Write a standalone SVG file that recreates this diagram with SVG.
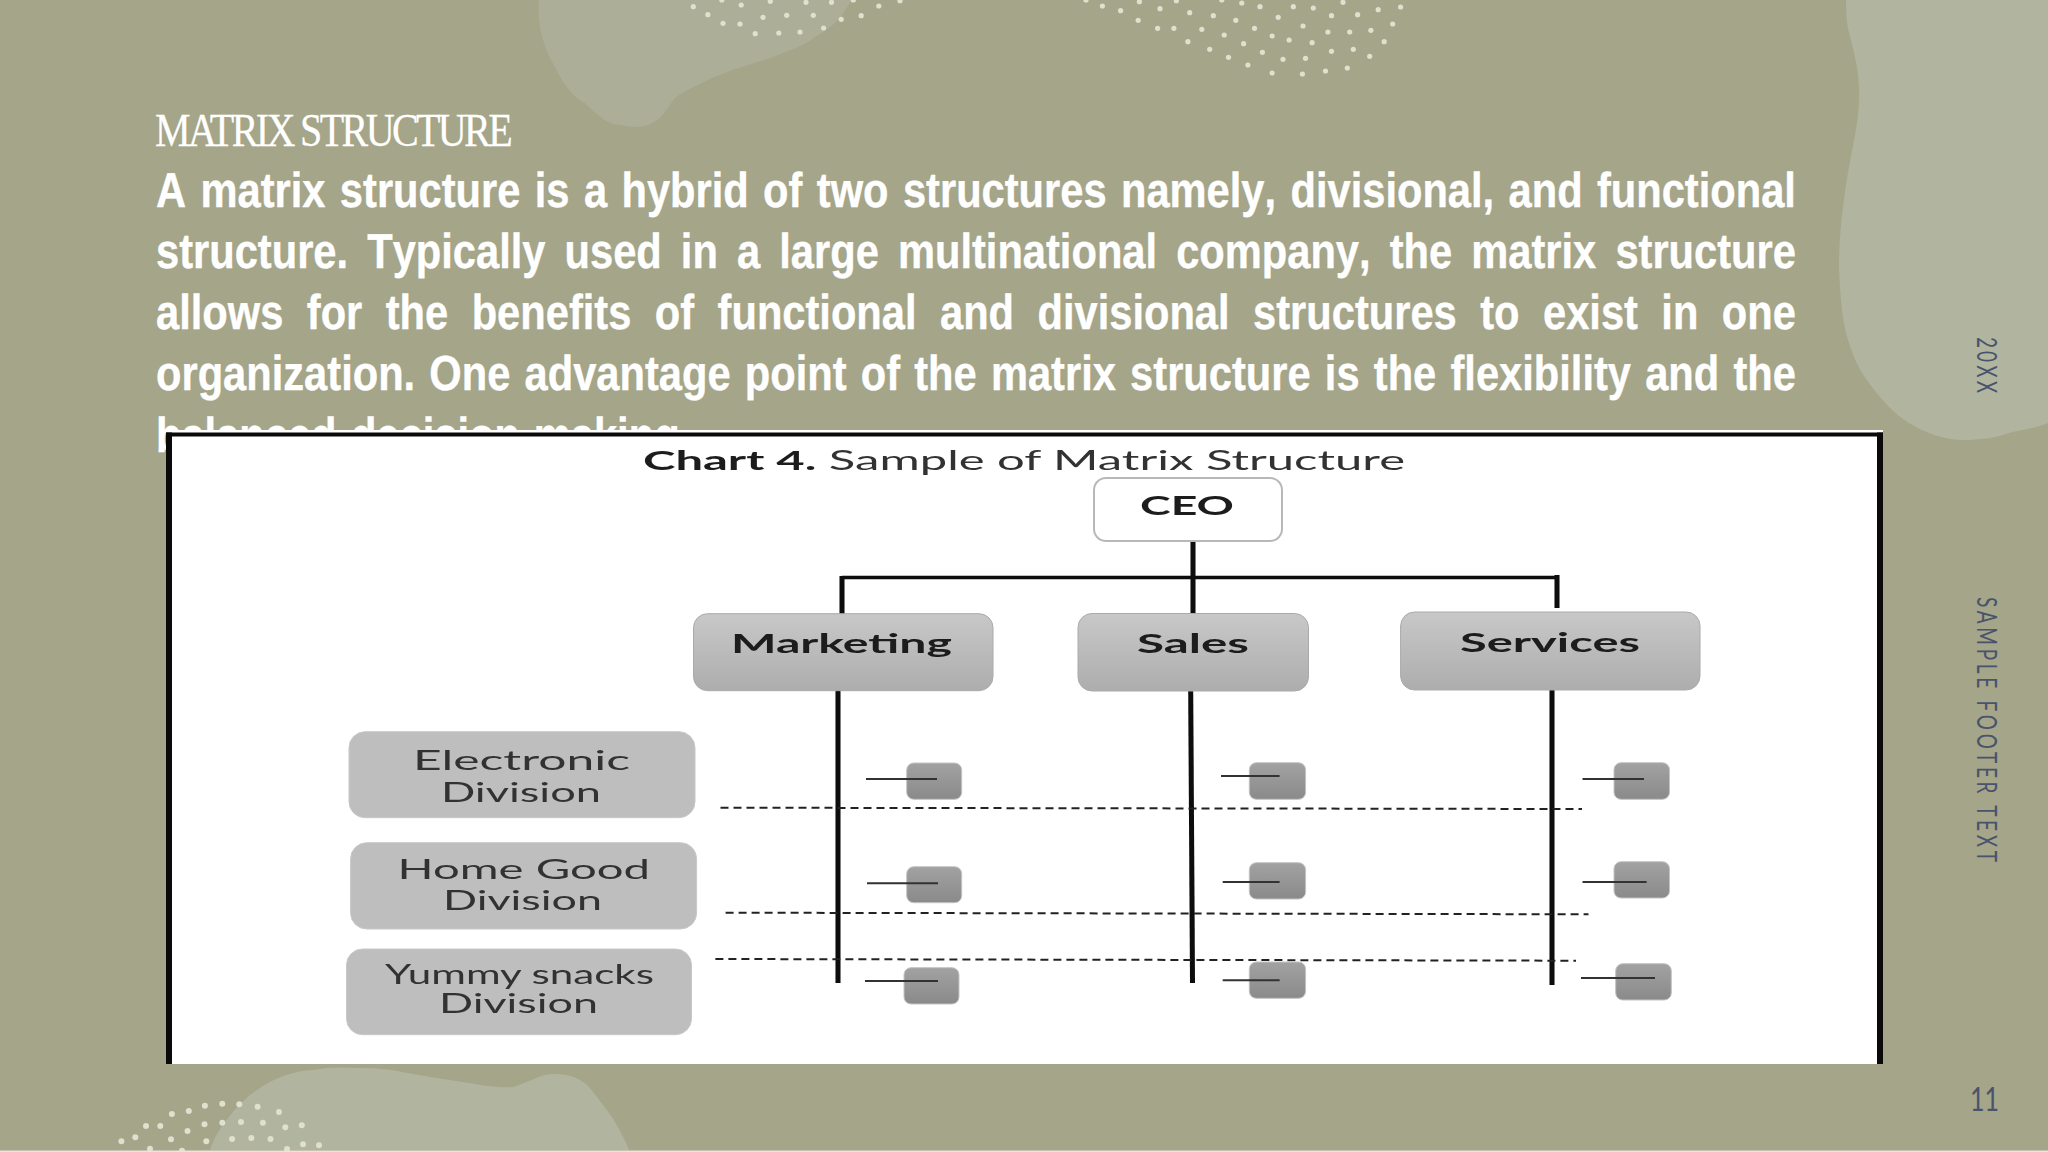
<svg xmlns="http://www.w3.org/2000/svg" width="2048" height="1152" viewBox="0 0 2048 1152">
<style>
.body{font-family:"Liberation Sans",Arial,sans-serif;font-weight:700;font-size:49px;fill:#fff;stroke:#fff;stroke-width:.4;font-kerning:none;text-rendering:geometricPrecision}
.title{font-family:"Liberation Serif","Times New Roman",serif;font-size:46px;letter-spacing:-3px;fill:#fff;stroke:#fff;stroke-width:.3}
.foot{font-family:"Lato","Liberation Sans",sans-serif;font-size:19px;fill:#48546c}
.dots circle{fill:#dfe0cd}
.lbl{font-family:"Lato","Liberation Sans",sans-serif;font-size:26px;fill:#333}
.bold{font-weight:700;fill:#1c1c1c}
.big{fill:url(#g1);stroke:#aaa;stroke-width:1}
.div{fill:#bebebe;stroke:#c8c8c8;stroke-width:1}
.sq{fill:url(#g2);stroke:#c4c4c4;stroke-width:1}
.solid{stroke:#0a0a0a;stroke-width:5;fill:none}
.thin{stroke:#0a0a0a;stroke-width:3.5;fill:none}
.dash{stroke:#222;stroke-width:2;stroke-dasharray:8 5;fill:none}
.tick{stroke:#333;stroke-width:2;fill:none}
</style>
<defs>
<linearGradient id="g1" x1="0" y1="0" x2="0" y2="1"><stop offset="0" stop-color="#c8c8c8"/><stop offset="1" stop-color="#adadad"/></linearGradient>
<linearGradient id="g2" x1="0" y1="0" x2="0" y2="1"><stop offset="0" stop-color="#a2a2a2"/><stop offset="1" stop-color="#8a8a8a"/></linearGradient>
<filter id="soft" x="-2%" y="-2%" width="104%" height="104%"><feGaussianBlur stdDeviation="0.6"/></filter>
</defs>

<rect width="2048" height="1152" fill="#a5a589"/>

<!-- background blobs -->
<path fill="#acae98" d="M539,0 C536,25 545,50 555,67 C565,88 575,98 585,103 C600,118 610,125 621,125 C640,130 655,125 664,113 C672,103 672,100 679,95 C690,88 700,84 712,78 C735,68 755,63 773,57 C795,48 805,45 815,37 C830,28 840,20 845,10 L852,0 Z"/>
<path fill="#b1b49e" d="M1846,0 C1846,15 1847,25 1849,33 C1855,55 1860,75 1859,100 C1858,125 1853,145 1849,167 C1843,200 1839,235 1839,267 C1840,295 1842,315 1846,333 C1852,355 1859,370 1869,383 C1880,398 1893,413 1909,423 C1925,433 1945,440 1963,440 C1980,440 1995,438 2009,433 C2022,430 2036,428 2048,423 L2048,0 Z"/>
<path fill="#b1b49e" d="M210,1150 C215,1135 223,1124 232,1113 C243,1100 255,1090 268,1083 C282,1075 297,1071 312,1070 C328,1067 343,1067 357,1068 C375,1068 388,1069 402,1072 C425,1076 448,1080 469,1083 C485,1086 500,1088 513,1087 C530,1082 540,1074 554,1074 C570,1074 580,1078 589,1087 C598,1098 605,1108 612,1117 C620,1130 625,1140 629,1150 Z"/>

<!-- dots -->
<g class="dots">
<circle cx="693.3" cy="6.7" r="2.6"/><circle cx="707.9" cy="14.7" r="2.6"/><circle cx="723" cy="23.3" r="2.6"/><circle cx="740" cy="24" r="2.6"/><circle cx="741.2" cy="5" r="2.6"/><circle cx="763" cy="17.3" r="2.6"/><circle cx="786.7" cy="15.3" r="2.6"/><circle cx="813.3" cy="15.3" r="2.6"/><circle cx="841.2" cy="19.3" r="2.6"/><circle cx="861.2" cy="15.7" r="2.6"/><circle cx="878.8" cy="6" r="2.6"/><circle cx="900" cy="0.7" r="2.6"/><circle cx="853.3" cy="0" r="2.6"/><circle cx="831.5" cy="2.3" r="2.6"/><circle cx="806" cy="2.3" r="2.6"/><circle cx="770.3" cy="1.3" r="2.6"/><circle cx="721.8" cy="0" r="2.6"/><circle cx="755.2" cy="33.7" r="2.6"/><circle cx="778.8" cy="33" r="2.6"/><circle cx="800" cy="32" r="2.6"/><circle cx="823.6" cy="28" r="2.6"/>
<circle cx="1086" cy="0" r="2.6"/><circle cx="1102.4" cy="6" r="2.6"/><circle cx="1120.6" cy="10.7" r="2.6"/><circle cx="1139.4" cy="1.7" r="2.6"/><circle cx="1160" cy="8.7" r="2.6"/><circle cx="1176.4" cy="0.7" r="2.6"/><circle cx="1189.7" cy="12.7" r="2.6"/><circle cx="1213.3" cy="15.7" r="2.6"/><circle cx="1221.8" cy="0" r="2.6"/><circle cx="1241.8" cy="3" r="2.6"/><circle cx="1260" cy="6.7" r="2.6"/><circle cx="1293.3" cy="6.7" r="2.6"/><circle cx="1313.3" cy="8" r="2.6"/><circle cx="1343" cy="2.3" r="2.6"/><circle cx="1331.5" cy="15.7" r="2.6"/><circle cx="1357.6" cy="14.7" r="2.6"/><circle cx="1378.2" cy="9.7" r="2.6"/><circle cx="1400.6" cy="7" r="2.6"/><circle cx="1392.7" cy="24" r="2.6"/><circle cx="1370.9" cy="30.3" r="2.6"/><circle cx="1349.7" cy="32" r="2.6"/><circle cx="1327.9" cy="32" r="2.6"/><circle cx="1303" cy="26" r="2.6"/><circle cx="1278.2" cy="17.3" r="2.6"/><circle cx="1235.8" cy="20.3" r="2.6"/><circle cx="1138.2" cy="20.3" r="2.6"/><circle cx="1157.6" cy="28.3" r="2.6"/><circle cx="1173.9" cy="28.3" r="2.6"/><circle cx="1201.8" cy="29.3" r="2.6"/><circle cx="1224.2" cy="35" r="2.6"/><circle cx="1254.5" cy="28.3" r="2.6"/><circle cx="1272.1" cy="36" r="2.6"/><circle cx="1289.1" cy="40" r="2.6"/><circle cx="1312.1" cy="42.7" r="2.6"/><circle cx="1384.2" cy="41.7" r="2.6"/><circle cx="1187.9" cy="41.7" r="2.6"/><circle cx="1209.7" cy="49.3" r="2.6"/><circle cx="1243.6" cy="43.7" r="2.6"/><circle cx="1262.4" cy="52.3" r="2.6"/><circle cx="1331.5" cy="51.3" r="2.6"/><circle cx="1353.3" cy="49.3" r="2.6"/><circle cx="1369.7" cy="56.3" r="2.6"/><circle cx="1228.5" cy="57.3" r="2.6"/><circle cx="1283" cy="59.3" r="2.6"/><circle cx="1305.5" cy="58.3" r="2.6"/><circle cx="1247.9" cy="65" r="2.6"/><circle cx="1272.1" cy="73" r="2.6"/><circle cx="1302.4" cy="74" r="2.6"/><circle cx="1325.5" cy="71" r="2.6"/><circle cx="1347.3" cy="68" r="2.6"/>
<circle cx="121.4" cy="1141.3" r="3"/><circle cx="135.3" cy="1137.3" r="3"/><circle cx="146" cy="1126" r="3"/><circle cx="160.3" cy="1126" r="3"/><circle cx="171.9" cy="1114" r="3"/><circle cx="188.8" cy="1111" r="3"/><circle cx="204.9" cy="1105.7" r="3"/><circle cx="222.3" cy="1103.7" r="3"/><circle cx="239.3" cy="1104.3" r="3"/><circle cx="257.6" cy="1106.7" r="3"/><circle cx="279" cy="1112" r="3"/><circle cx="301.8" cy="1125.3" r="3"/><circle cx="285.3" cy="1127.3" r="3"/><circle cx="262.9" cy="1122.7" r="3"/><circle cx="241" cy="1122" r="3"/><circle cx="222.3" cy="1122.7" r="3"/><circle cx="204.5" cy="1124.3" r="3"/><circle cx="187.5" cy="1131" r="3"/><circle cx="171" cy="1139.3" r="3"/><circle cx="150" cy="1148.7" r="3"/><circle cx="182" cy="1150.7" r="3"/><circle cx="206.3" cy="1141.3" r="3"/><circle cx="232.1" cy="1139" r="3"/><circle cx="251.3" cy="1138" r="3"/><circle cx="270.5" cy="1139" r="3"/><circle cx="287" cy="1149" r="3"/><circle cx="303" cy="1144.3" r="3"/><circle cx="319" cy="1145.3" r="3"/>
</g>
<rect y="1150.5" width="2048" height="1.5" fill="#e6e6da"/>

<!-- slide text -->
<text class="title" x="155" y="146" textLength="355" lengthAdjust="spacingAndGlyphs">MATRIX STRUCTURE</text>
<g class="body">
<text transform="translate(156,206.5) scale(.85,1)" word-spacing="3.31">A matrix structure is a hybrid of two structures namely, divisional, and functional</text>
<text transform="translate(156,267.8) scale(.85,1)" word-spacing="8.86">structure. Typically used in a large multinational company, the matrix structure</text>
<text transform="translate(156,329.1) scale(.85,1)" word-spacing="13.98">allows for the benefits of functional and divisional structures to exist in one</text>
<text transform="translate(156,390.4) scale(.85,1)" word-spacing="3.09">organization. One advantage point of the matrix structure is the flexibility and the</text>
<text transform="translate(156,451.7) scale(.85,1)" word-spacing="3.3">balanced decision-making</text>
</g>
<text class="foot" transform="translate(1977,337) rotate(90) scale(1,1.4)" textLength="56">20XX</text>
<text class="foot" transform="translate(1977,597) rotate(90) scale(1,1.4)" textLength="265">SAMPLE FOOTER TEXT</text>
<text x="1970" y="1111" font-family="Lato,'Liberation Sans',sans-serif" font-size="33" fill="#48546c" textLength="29" lengthAdjust="spacingAndGlyphs">11</text>

<!-- chart panel -->
<rect x="166" y="430" width="1717" height="634" fill="#fff"/>
<rect x="166" y="432.5" width="1717" height="4" fill="#0a0a0a"/>
<rect x="166" y="432.5" width="6" height="631.5" fill="#0a0a0a"/>
<rect x="1877" y="432.5" width="6" height="631.5" fill="#0a0a0a"/>

<g filter="url(#soft)">
<text id="chart-title" class="lbl" x="643" y="469.5" textLength="762" lengthAdjust="spacingAndGlyphs" font-size="25"><tspan class="bold">Chart 4.</tspan> Sample of Matrix Structure</text>

<g id="connectors">
<path class="solid" d="M1193,541V613"/>
<path class="thin" d="M842,577.5H1557"/>
<path class="solid" d="M842,576V615.5"/>
<path class="solid" d="M1557,575V608"/>
<path class="solid" d="M838,690V983"/>
<path class="solid" d="M1190.7,691L1192.5,983"/>
<path class="solid" d="M1552,690V985"/>
<path class="dash" d="M720.5,807.7L1582,809"/>
<path class="dash" d="M725.6,912.7L1588.5,914.3"/>
<path class="dash" d="M715.4,959L1576,960.7"/>
</g>

<g id="ceo"><rect x="1094" y="478" width="188" height="63" rx="12" fill="#fff" stroke="#b8b8b8" stroke-width="2"/><text class="lbl bold" x="1140" y="515" textLength="94" lengthAdjust="spacingAndGlyphs">CEO</text></g>
<g id="marketing"><rect class="big" x="693.5" y="613.7" width="299.5" height="77" rx="14"/><text class="lbl bold" x="731" y="653" textLength="221" lengthAdjust="spacingAndGlyphs">Marketing</text></g>
<g id="sales"><rect class="big" x="1078" y="613.5" width="230.5" height="77.5" rx="14"/><text class="lbl bold" x="1137" y="652.7" textLength="112" lengthAdjust="spacingAndGlyphs">Sales</text></g>
<g id="services"><rect class="big" x="1400.6" y="612" width="299.4" height="78" rx="14"/><text class="lbl bold" x="1460" y="651.7" textLength="180" lengthAdjust="spacingAndGlyphs">Services</text></g>

<g id="electronic-division"><rect class="div" x="349" y="731.7" width="346" height="86" rx="16"/><text class="lbl" x="413" y="770.3" textLength="217" lengthAdjust="spacingAndGlyphs">Electronic</text><text class="lbl" x="441" y="802" textLength="160" lengthAdjust="spacingAndGlyphs">Division</text></g>
<g id="home-good-division"><rect class="div" x="350.6" y="842.7" width="346" height="86.3" rx="16"/><text class="lbl" x="397.6" y="879.3" textLength="252.4" lengthAdjust="spacingAndGlyphs">Home Good</text><text class="lbl" x="443" y="910.3" textLength="159" lengthAdjust="spacingAndGlyphs">Division</text></g>
<g id="yummy-snacks-division"><rect class="div" x="346.5" y="949" width="345" height="85.7" rx="16"/><text class="lbl" x="385" y="983.5" font-size="23" textLength="269" lengthAdjust="spacingAndGlyphs">Yummy snacks</text><text class="lbl" x="439" y="1013.3" textLength="159" lengthAdjust="spacingAndGlyphs">Division</text></g>

<g id="cell-1-1"><rect class="sq" x="906.7" y="763" width="55" height="36.3" rx="7"/><path class="tick" d="M866,779H937"/></g>
<g id="cell-2-1"><rect class="sq" x="906.7" y="866.7" width="55" height="36" rx="7"/><path class="tick" d="M867,883.3H938"/></g>
<g id="cell-3-1"><rect class="sq" x="904" y="967.7" width="55" height="36.3" rx="7"/><path class="tick" d="M865,981H938"/></g>
<g id="cell-1-2"><rect class="sq" x="1249.3" y="762.7" width="56.3" height="36.6" rx="7"/><path class="tick" d="M1221,776H1279.6"/></g>
<g id="cell-2-2"><rect class="sq" x="1249.3" y="862.7" width="56.3" height="36.3" rx="7"/><path class="tick" d="M1222.7,882H1279.6"/></g>
<g id="cell-3-2"><rect class="sq" x="1249.3" y="962" width="56.3" height="36.3" rx="7"/><path class="tick" d="M1222.7,980.3H1279.6"/></g>
<g id="cell-1-3"><rect class="sq" x="1614" y="762.7" width="55.5" height="36.6" rx="7"/><path class="tick" d="M1582.5,779H1644"/></g>
<g id="cell-2-3"><rect class="sq" x="1614" y="861.7" width="55.5" height="36.3" rx="7"/><path class="tick" d="M1582.5,882H1646.6"/></g>
<g id="cell-3-3"><rect class="sq" x="1615.7" y="963.7" width="55.6" height="36.3" rx="7"/><path class="tick" d="M1581,978H1655"/></g>
</g>
</svg>
